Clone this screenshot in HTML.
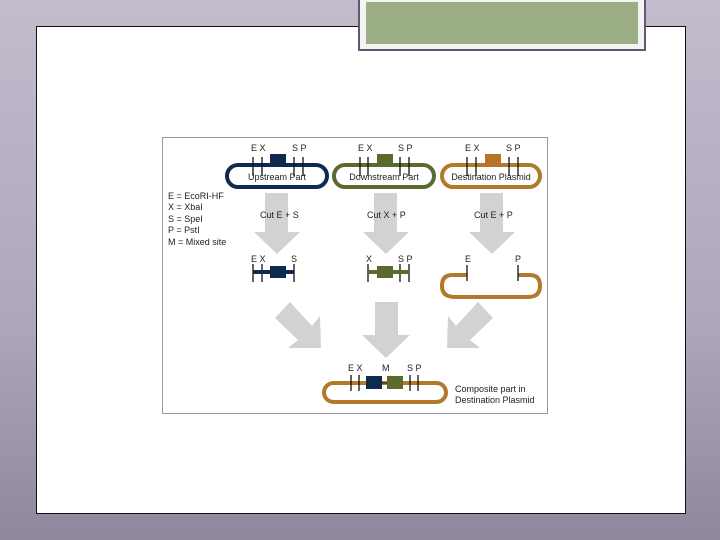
<!DOCTYPE html>
<html><head><style>
html,body{margin:0;padding:0}
body{width:720px;height:540px;overflow:hidden;position:relative;background:linear-gradient(180deg,#c3bccd 0%,#aea6ba 60%,#8f879c 100%)}
.slide{position:absolute;left:36px;top:26px;width:648px;height:486px;background:#fff;border:1px solid #111}
.tb{position:absolute;left:358px;top:-4px;width:284px;height:51px;background:#f4f4f4;border:2px solid #5f5870;padding:0}
.tb div{position:absolute;left:6px;top:4px;right:6px;bottom:5px;background:#9caf84}
svg{position:absolute;left:0;top:0}
text{font-family:"Liberation Sans",sans-serif;font-size:9px;fill:#222}
</style></head><body>
<div class="slide"></div>
<div class="tb"><div></div></div>
<svg width="720" height="540">
<rect x="162.5" y="137.5" width="385" height="276" fill="#fff" stroke="#9a96a8"/>
<g fill="#d2d2d4">
<polygon points="265,193 288,193 288,232 300,232 277,254 254,232 265,232"/>
<polygon points="374,193 397,193 397,232 409,232 386,254 363,232 374,232"/>
<polygon points="480,193 503,193 503,232 515,232 492,254 469,232 480,232"/>
<polygon points="375,302 398,302 398,335 410,335 386,358 362,335 375,335"/>
<polygon points="275,318 290,302 312,326 320,316 321,348 288,348 298,340"/>
<polygon points="493,318 478,302 456,326 448,316 447,348 480,348 470,340"/>
</g>
<g fill="none" stroke-width="4">
<rect x="227" y="165" width="100" height="22" rx="11" stroke="#0e2a4f"/>
<rect x="334" y="165" width="100" height="22" rx="11" stroke="#5a6b2e"/>
<rect x="442" y="165" width="98" height="22" rx="11" stroke="#b07a2a"/>
<path d="M467,275 L452,275 Q442,275 442,286 Q442,297 455,297 L528,297 Q540,297 540,286 Q540,275 530,275 L518,275" stroke="#b07a2a"/>
<rect x="324" y="383" width="122" height="19" rx="9.5" stroke="#b07a2a"/>
</g>
<g stroke="#111" stroke-width="1.3">
<path d="M253,157v19M262,157v19M294,157v19M303,157v19"/>
<path d="M360,157v19M368,157v19M400,157v19M409,157v19"/>
<path d="M467,157v19M476,157v19M509,157v19M518,157v19"/>
<path d="M253,264v18M262,264v18M294,264v18"/>
<path d="M368,264v18M400,264v18M409,264v18"/>
<path d="M467,265v16M518,265v16"/>
<path d="M351,375v16M359,375v16M410,375v16M418,375v16"/>
</g>
<rect x="270" y="154" width="16" height="13" fill="#0e2a4f"/>
<rect x="377" y="154" width="16" height="13" fill="#5a6b2e"/>
<rect x="485" y="154" width="16" height="13" fill="#b8732a"/>
<line x1="253" y1="272" x2="294" y2="272" stroke="#0e2a4f" stroke-width="4"/>
<rect x="270" y="266" width="16" height="12" fill="#0e2a4f"/>
<line x1="368" y1="272" x2="409" y2="272" stroke="#5a6b2e" stroke-width="4"/>
<rect x="377" y="266" width="16" height="12" fill="#5a6b2e"/>
<line x1="382" y1="383" x2="387" y2="383" stroke="#111"/>
<rect x="366" y="376" width="16" height="13" fill="#0e2a4f"/>
<rect x="387" y="376" width="16" height="13" fill="#5a6b2e"/>
<text x="251" y="151">E X</text><text x="292" y="151">S P</text>
<text x="358" y="151">E X</text><text x="398" y="151">S P</text>
<text x="465" y="151">E X</text><text x="506" y="151">S P</text>
<text x="277" y="180" text-anchor="middle">Upstream Part</text>
<text x="384" y="180" text-anchor="middle">Downstream Part</text>
<text x="491" y="180" text-anchor="middle">Destination Plasmid</text>
<text x="168" y="199">E = EcoRI-HF</text>
<text x="168" y="210">X = XbaI</text>
<text x="168" y="222">S = SpeI</text>
<text x="168" y="233">P = PstI</text>
<text x="168" y="245">M = Mixed site</text>
<text x="260" y="218">Cut E + S</text>
<text x="367" y="218">Cut X + P</text>
<text x="474" y="218">Cut E + P</text>
<text x="251" y="262">E X</text><text x="291" y="262">S</text>
<text x="366" y="262">X</text><text x="398" y="262">S P</text>
<text x="465" y="262">E</text><text x="515" y="262">P</text>
<text x="348" y="371">E X</text><text x="382" y="371">M</text><text x="407" y="371">S P</text>
<text x="455" y="392">Composite part in</text>
<text x="455" y="403">Destination Plasmid</text>
</svg>
</body></html>
